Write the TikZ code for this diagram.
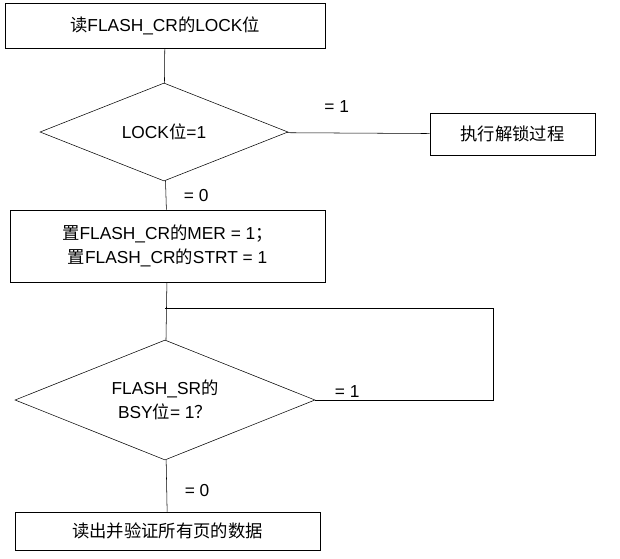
\documentclass[tikz,border=0pt]{standalone}
\usepackage{fontspec}
\setmainfont{Liberation Sans}
\newfontfamily\cjk{Noto Sans CJK SC}
\newcommand{\zh}[1]{{\cjk #1}}
\usetikzlibrary{shapes.geometric}
\begin{document}
\begin{tikzpicture}[x=0.75pt,y=-0.75pt,font=\fontsize{13}{18}\selectfont,
    box/.style={draw,rectangle,minimum height=0pt,inner sep=0pt,align=center},
    dec/.style={draw,diamond,aspect=2.5,inner sep=0pt,align=center}]

        \useasboundingbox (0,0) rectangle (620,558);

        \begin{scope}[every node/.style={box}]
          \node[minimum width=320*0.75pt,minimum height=45*0.75pt] (read)   at (165,25.5)  {\zh{读}FLASH\_CR\zh{的}LOCK\zh{位}};
          \node[minimum width=165*0.75pt,minimum height=42*0.75pt] (unlock) at (512.5,134) {\zh{执行解锁过程}};
          \node[minimum width=315*0.75pt,minimum height=72*0.75pt] (set)    at (167.5,246) {\zh{置}FLASH\_CR\zh{的}MER = 1\zh{；}\\\zh{置}FLASH\_CR\zh{的}STRT = 1};
          \node[minimum width=305*0.75pt,minimum height=38*0.75pt] (verify) at (167.5,531) {\zh{读出并验证所有页的数据}};
        \end{scope}

        \begin{scope}[every node/.style={dec}]
          \node[minimum width=248*0.75pt,minimum height=98*0.75pt]  (lock) at (164,132) {LOCK\zh{位}=1};
          \node[minimum width=300*0.75pt,minimum height=120*0.75pt] (bsy)  at (165,400) {FLASH\_SR\zh{的}\\BSY\zh{位}= 1\zh{？}};
        \end{scope}

        \coordinate (loopa) at (165,308);
        \coordinate (loopb) at (493,308);
        \coordinate (loopc) at (493,400);

        \draw (read) -- (lock);
        \draw (lock) -- node[pos=0.35,above=12pt] {= 1} (unlock);
        \draw (lock) -- node[right=10pt] {= 0} (set);
        \draw (set) -- (bsy);
        \draw (loopa) -- (loopb) -- (loopc) -- node[pos=0.82,above=-2pt] {= 1} (bsy.east);
        \draw (bsy) -- node[pos=0.6,right=10pt] {= 0} (verify);

      \end{tikzpicture}
\end{document}
